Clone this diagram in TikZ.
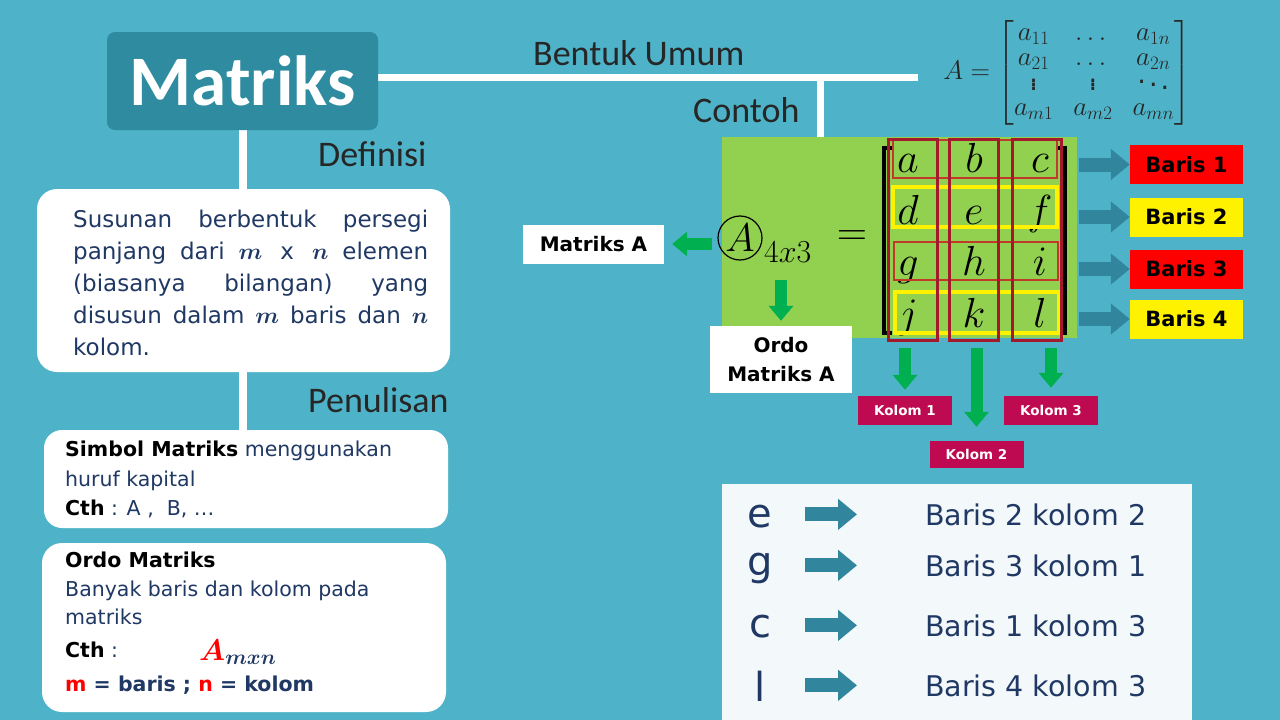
\RequirePackage{fix-cm}
\documentclass[tikz,border=0pt]{standalone}
\usepackage{amsmath}
\usepackage{xcolor}
\usepackage{fontspec}
\setmainfont{DejaVu Sans}
\newfontfamily\calibri{Carlito}
\usetikzlibrary{arrows.meta}

\definecolor{bgteal}{HTML}{4EB3C8}
\definecolor{titleteal}{HTML}{2E8BA0}
\definecolor{leafgreen}{HTML}{92D050}
\definecolor{arrgreen}{HTML}{00B050}
\definecolor{arrteal}{HTML}{31859C}
\definecolor{kolomred}{HTML}{BE0A50}
\definecolor{colred}{HTML}{A5192D}
\definecolor{rowred}{HTML}{C0392B}
\definecolor{inkblue}{HTML}{203864}
\definecolor{paleblue}{HTML}{F3F8FA}

\newcommand{\fsz}[2]{\fontsize{#1}{#2}\selectfont}
\pgfdeclarelayer{back}
\pgfsetlayers{back,main}

\begin{document}
\begin{tikzpicture}[
x=1pt, y=-1pt,
link/.style={draw=white, line width=7pt},
head/.style={font=\calibri\fsz{36}{40}, text=black!85, inner sep=0, anchor=base west},
card/.style={fill=white, rounded corners=20pt, inner sep=0},
tag/.style={fill=white, inner sep=0, align=center, font=\bfseries\fsz{20}{29}},
baris/.style={inner sep=0, minimum width=113pt, minimum height=39pt, font=\bfseries\fsz{21}{24}},
kolom/.style={fill=kolomred, text=white, inner sep=0, minimum width=94pt, minimum height=29pt, font=\bfseries\fsz{13.5}{15}},
garrow/.style={draw=arrgreen, line width=12pt, -{Triangle[width=24pt,length=15pt]}},
tarrow/.style={draw=arrteal, line width=14pt, -{Triangle[width=30pt,length=19pt]}},
entry/.style={inner sep=0, anchor=base, font=\fsz{42}{42}},
rowred/.style={draw=rowred, line width=1.5pt, inner sep=0, minimum width=164pt},
rowyel/.style={draw=yellow, line width=4pt, inner sep=0, minimum width=164pt},
colbox/.style={draw=colred, line width=3pt, inner sep=0, minimum width=49pt, minimum height=201pt}
]

\useasboundingbox (0,0) rectangle (1280,720);
\begin{pgfonlayer}{back}
\fill[bgteal] (0,0) rectangle (1280,720);
\end{pgfonlayer}

\node[fill=titleteal, rounded corners=8pt, minimum width=271pt, minimum height=98pt, inner sep=0, text=white, font=\calibri\bfseries\fsz{71}{80}] (title) at (242.5,81) {Matriks};

\node[head] (bentuk) at (533,65) {Bentuk Umum};
\node[head] (contoh) at (693,122) {Contoh};
\node[head] (definisi) at (318,166) {Definisi};
\node[head] (penulisan) at (308,412) {Penulisan};

\coordinate (bu) at (918,77);
\coordinate (ct) at (820,77);

\node[inner sep=0, text=black!85, font=\fsz{27}{32}] (umum) at (1067,73)
  {\renewcommand\arraystretch{0.78}\setlength\arraycolsep{10pt}$A=\left[\begin{matrix}
  a_{11} & \dots & a_{1n}\\ a_{21} & \dots & a_{2n}\\ \vdots & \vdots & \ddots\\ a_{m1} & a_{m2} & a_{mn}
  \end{matrix}\right]$};

% kiri
\node[card, minimum width=413pt, minimum height=183pt] (defcard) at (243.5,280.5) {};
\node[inner sep=0, anchor=north west, text width=355pt, align=justify, text=inkblue, font=\fsz{23}{32}] (deftext) at (73,210)
  {Susunan berbentuk persegi\linebreak panjang dari $\boldsymbol{m}\;\mathrm{x}\;\boldsymbol{n}$ elemen\linebreak (biasanya bilangan) yang\linebreak disusun dalam $\boldsymbol{m}$ baris dan $\boldsymbol{n}$\linebreak kolom.};

\node[card, rounded corners=18pt, minimum width=404pt, minimum height=98pt] (simbol) at (246,479) {};
\node[inner sep=0, anchor=north west, align=left, text=inkblue, font=\fsz{20.5}{29.5}] (simboltext) at (65,441)
  {\textcolor{black}{\bfseries Simbol Matriks} menggunakan\\ huruf kapital\\ \textcolor{black}{\bfseries Cth} : A ,\ \ B, …};

\node[card, minimum width=404pt, minimum height=169pt] (ordocard) at (244,627.5) {};
\node[inner sep=0, anchor=north west, align=left, text=inkblue, font=\fsz{20.5}{28.5}] (ordotext) at (65,552)
  {\textcolor{black}{\bfseries Ordo Matriks}\\ Banyak baris dan kolom pada\\ matriks\\[4pt] \textcolor{black}{\bfseries Cth} :\\[6pt]
  {\bfseries\textcolor{red}{m} = baris ; \textcolor{red}{n} = kolom}};
\node[inner sep=0, anchor=base west, font=\fsz{30}{30}] (amxn) at (199,660) {$\boldsymbol{\textcolor{red}{A}_{\textcolor{inkblue}{mxn}}}$};

\begin{pgfonlayer}{back}
\draw[link] (title.east |- bu) -- (bu);
\draw[link] (ct) -- (ct |- 0,137);
\draw[link, line width=8pt] (title.south) -- (title.south |- simbol.north);
\end{pgfonlayer}

% contoh
\node[fill=leafgreen, inner sep=0, minimum width=355pt, minimum height=201pt] (green) at (899.5,237.5) {};
\node[draw, circle, line width=1.2pt, minimum size=44pt, inner sep=0, font=\fsz{40}{40}] (cA) at (740,238) {$A$};
\node[inner sep=0, anchor=base west, font=\fsz{32}{32}] (sub) at (764,262) {$4x3$};
\node[inner sep=0, font=\fsz{42}{42}] (eq) at (852,238) {$=$};

\foreach \lst [count=\rr] in {{a,b,c},{d,e,f},{g,h,i},{j,k,l}}
  \foreach \ent [count=\cc] in \lst
    \node[entry] (m\rr\cc) at ({842+66*\cc},{121+51.5*\rr}) {$\ent$};

\draw[line width=4pt] (892,148) -- (884,148) -- (884,333) -- (892,333);
\draw[line width=4pt] (1057,148) -- (1065,148) -- (1065,333) -- (1057,333);

\node[rowred, minimum height=38pt] (r1) at (975,159) {};
\node[rowyel, minimum height=40pt] (r2) at (975,207) {};
\node[rowred, minimum height=38pt] (r3) at (976,261) {};
\node[rowyel, minimum height=41pt] (r4) at (977,312.5) {};
\foreach \x [count=\k] in {912.5,974,1037}
  \node[colbox] (c\k) at (\x,239.5) {};

\foreach \clr/\y [count=\k] in {red/164.5,yellow/217,red/269,yellow/319}{
  \node[baris, fill=\clr] (b\k) at (1186.5,\y) {Baris \k};
  \draw[tarrow, shorten <=2pt] (green.east |- b\k.west) -- (b\k.west);
}

\node[tag, minimum width=141pt, minimum height=39pt] (matA) at (593.5,244) {Matriks A};
\draw[garrow, shorten <=5pt, shorten >=8pt] (cA.west |- matA.east) -- (matA.east);
\node[tag, minimum width=142pt, minimum height=67pt] (ordo) at (781,359.5) {Ordo\\Matriks A};
\draw[garrow, shorten <=19pt, shorten >=5pt] (ordo.north |- cA.south) -- (ordo.north);

\node[kolom] (k1) at (905,410.5) {Kolom 1};
\node[kolom, minimum height=27pt] (k2) at (976.5,454.5) {Kolom 2};
\node[kolom] (k3) at (1051,410.5) {Kolom 3};
\foreach \k/\s in {1/6,2/14,3/8}
  \draw[garrow, shorten <=6pt, shorten >=\s pt] (c\k.south -| k\k.north) -- (k\k.north);

% soal
\node[fill=paleblue, inner sep=0, minimum width=470pt, minimum height=240pt] (soal) at (957,604) {};
\foreach \ent/\ly/\txt/\ty [count=\k] in {e/527/Baris 2 kolom 2/525, g/575/Baris 3 kolom 1/576, c/637/Baris 1 kolom 3/636, l/701/Baris 4 kolom 3/696}{
  \node[inner sep=0, anchor=base, text=inkblue, font=\fsz{40}{40}] (l\k) at (760,\ly) {\ent};
  \node[inner sep=0, anchor=base west, text=inkblue, font=\fsz{28.5}{34}] (t\k) at (925,\ty) {\txt};
  \draw[tarrow] ([xshift=-120pt]t\k.west) -- ([xshift=-68pt]t\k.west);
}

\end{tikzpicture}
\end{document}
